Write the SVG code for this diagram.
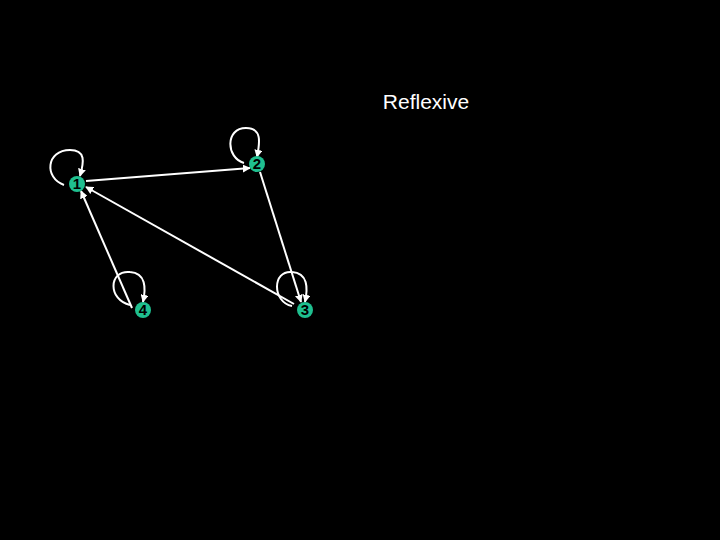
<svg xmlns="http://www.w3.org/2000/svg" width="720" height="540" viewBox="0 0 720 540">
<style>
.e{stroke:#fff;stroke-width:2;fill:none;marker-end:url(#a)}
.n{fill:#1fbf8f}
.t{font-family:"Liberation Sans",sans-serif;font-size:15px;font-weight:bold;fill:#000;text-anchor:middle}
</style>
<defs><marker id="a" viewBox="0 0 10 10" refX="9" refY="5" markerWidth="4" markerHeight="4" orient="auto"><path d="M0,0L10,5L0,10z" fill="#fff"/></marker></defs>
<rect width="720" height="540" fill="#000"/>
<text x="426" y="109" font-family="Liberation Sans,sans-serif" font-size="21" fill="#fff" text-anchor="middle">Reflexive</text>
<g id="edges">
<path class="e" d="M86,181L250,168"/>
<path class="e" d="M132,308L81,191"/>
<path class="e" d="M294,304L86,187"/>
<path class="e" d="M260,172L301,302"/>
<path class="e" d="M64,185C44,178 46,150 70,150C86,150 84,162 80,176"/>
<path class="e" d="M244,163C226,158 225,128 246,128C262,128 260,142 257,157"/>
<path class="e" d="M130,305C108,300 108,270 130,272C146,273 146,288 143,302"/>
<path class="e" d="M292,306C272,302 272,270 292,272C308,273 308,288 305,302"/>
</g>
<g id="n1"><circle class="n" cx="77" cy="184" r="8"/><text class="t" x="77" y="189">1</text></g>
<g id="n2"><circle class="n" cx="257" cy="164" r="8"/><text class="t" x="257" y="169">2</text></g>
<g id="n3"><circle class="n" cx="305" cy="310" r="8"/><text class="t" x="305" y="315">3</text></g>
<g id="n4"><circle class="n" cx="143" cy="310" r="8"/><text class="t" x="143" y="315">4</text></g>
</svg>
